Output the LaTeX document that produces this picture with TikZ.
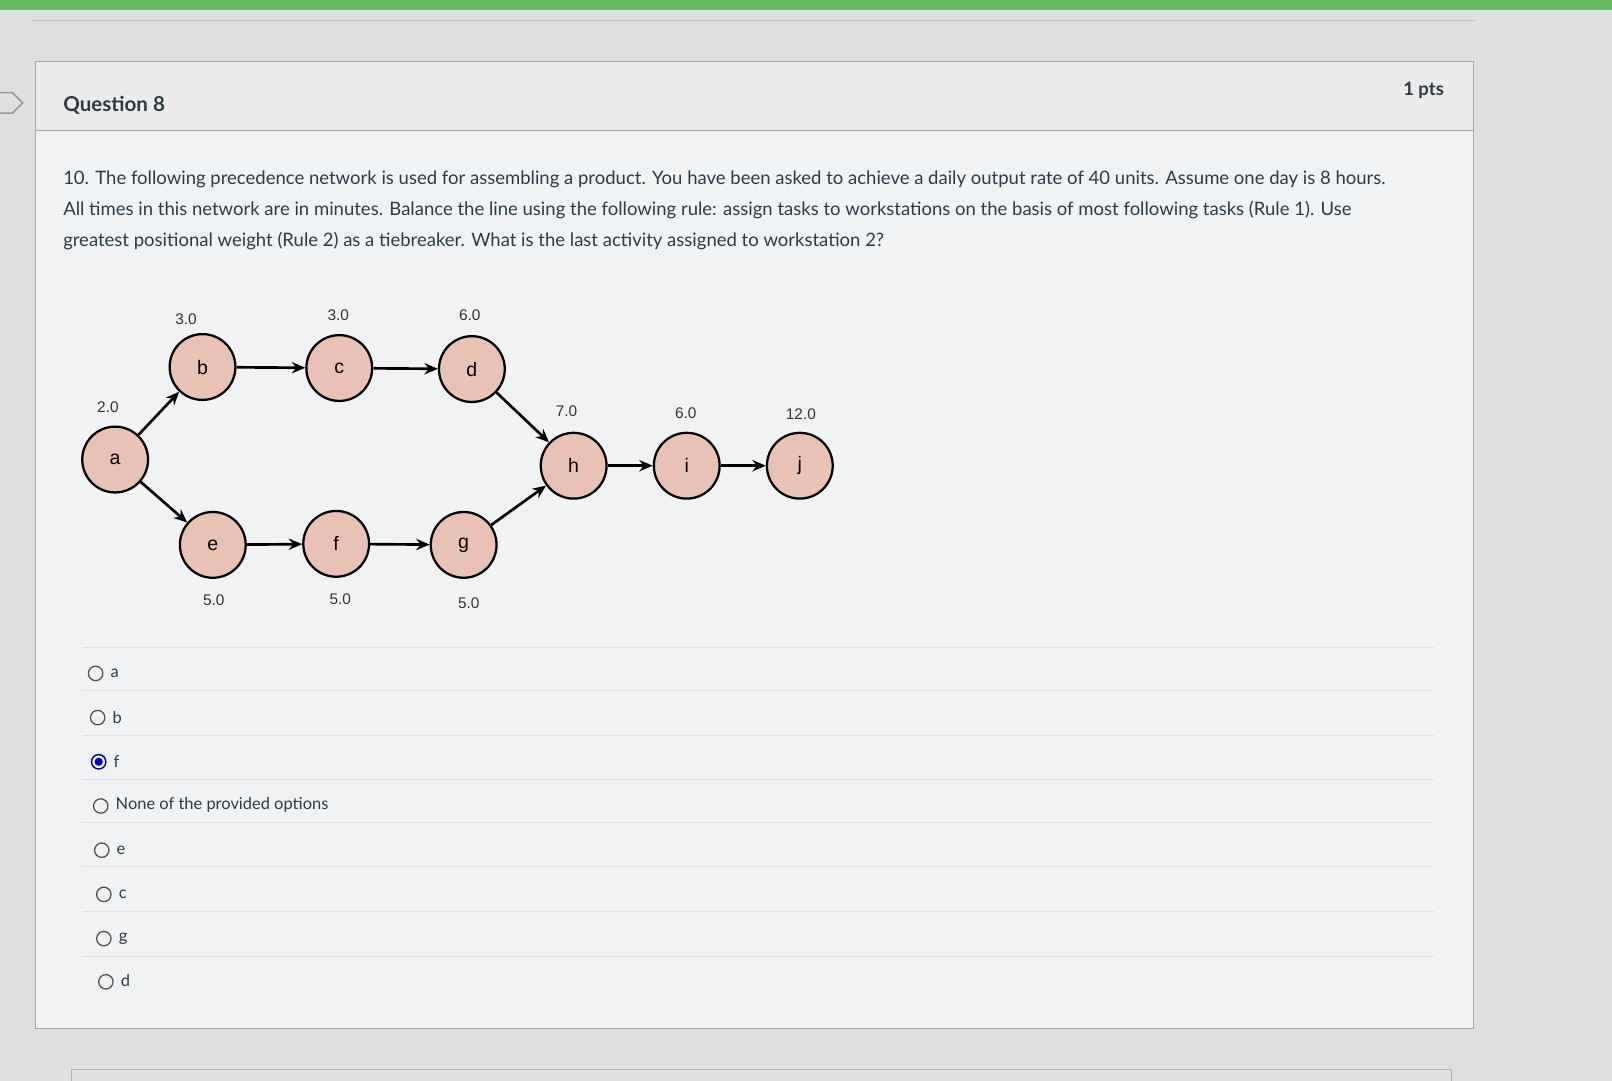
\documentclass[tikz,border=0pt]{standalone}
\usepackage{fontspec}
\setmainfont{Lato}
\newfontfamily\arialf{Liberation Sans}
\usetikzlibrary{arrows.meta}
\definecolor{bg}{HTML}{DDDFE1}
\definecolor{nodefill}{HTML}{E8C2B4}
\definecolor{txt}{HTML}{2D3B45}
\tikzset{
 task/.style={circle,draw=black,line width=2.2pt,fill=nodefill,minimum size=64pt,inner sep=0pt,font=\arialf\fontsize{19}{19}\selectfont},
 wt/.style={font=\arialf\fontsize{15}{15}\selectfont,text=black!80},
 edge/.style={-{Stealth[length=13pt,width=11pt]},line width=2.6pt},
 opt/.style={anchor=west,font=\fontsize{16}{16}\selectfont,text=txt},
 radio/.style={circle,draw=black!70,line width=1.2pt,minimum size=14pt,inner sep=0pt},
 sep/.style={draw=black!12,line width=1pt}
}
\begin{document}
\begin{tikzpicture}[x=1pt,y=-1pt]
\useasboundingbox (0,0) rectangle (1568,1051);
\fill[bg] (0,0) rectangle (1568,1051);
\fill[green!55!black!60] (0,0) rectangle (1568,10);
\draw[black!25,line width=1pt] (30,20) -- (1435,20);
\fill[white!60!bg] (35,60) rectangle (1433,1000);
\draw[black!35,line width=1pt] (35,60) rectangle (1433,1000);
\fill[black!8] (35,60) rectangle (1433,127);
\draw[black!35,line width=1pt] (35,127) -- (1433,127);
\draw[black!40,line width=1.5pt] (0,90) -- (12,90) -- (22,100) -- (12,110) -- (0,110);
\node[anchor=west,font=\bfseries\fontsize{20}{20}\selectfont,text=txt] (qt) at (58,102) {Question 8};
\node[anchor=east,font=\bfseries\fontsize{18}{18}\selectfont,text=txt] (pts) at (1408,88) {1 pts};
\node[anchor=north west,text width=1300pt,align=flush left,font=\fontsize{18}{30}\selectfont,text=txt] (q) at (58,163)
{\hyphenpenalty=10000 10. The following precedence network is used for assembling a product. You have been asked to achieve a daily output rate of 40 units. Assume one day is 8 hours. All times in this network are in minutes. Balance the line using the following rule: assign tasks to workstations on the basis of most following tasks (Rule 1). Use greatest positional weight (Rule 2) as a tiebreaker. What is the last activity assigned to workstation 2?};
\node[task] (a) at (112,447) {a};
\node[task] (b) at (197,357) {b};
\node[task] (c) at (330,358) {c};
\node[task] (d) at (459,359) {d};
\node[task] (e) at (207,530) {e};
\node[task] (f) at (327,529) {f};
\node[task] (g) at (451,530) {g};
\node[task] (h) at (558,453) {h};
\node[task] (i) at (668,453) {i};
\node[task] (j) at (778,453) {j};
\draw[edge] (a) -- (b); \draw[edge] (b) -- (c); \draw[edge] (c) -- (d);
\draw[edge] (a) -- (e); \draw[edge] (e) -- (f); \draw[edge] (f) -- (g);
\draw[edge] (d) -- (h); \draw[edge] (g) -- (h); \draw[edge] (h) -- (i); \draw[edge] (i) -- (j);
\node[wt] (wb) at (181,310) {3.0};
\node[wt] (wc) at (329,307) {3.0};
\node[wt] (wd) at (457,307) {6.0};
\node[wt] (wa) at (105,396) {2.0};
\node[wt] (wh) at (551,400) {7.0};
\node[wt] (wi) at (667,402) {6.0};
\node[wt] (wj) at (779,403) {12.0};
\node[wt] (we) at (208,584) {5.0};
\node[wt] (wf) at (331,583) {5.0};
\node[wt] (wg) at (456,587) {5.0};
\foreach \y in {630,672,715,758,800,843,887,930} \draw[sep] (80,\y) -- (1395,\y);
\node[radio] (r1) at (93,655) {}; \node[opt] (o1) at (104,655) {a};
\node[radio] (r2) at (95,698) {}; \node[opt] (o2) at (106,698) {b};
\node[radio,draw=blue!70!black,line width=1.4pt] (r3) at (96,741) {}; \fill[blue!70!black] (r3) circle (4pt);
\node[opt] (o3) at (107,741) {f};
\node[radio] (r4) at (98,784) {}; \node[opt] (o4) at (109,783) {None of the provided options};
\node[radio] (r5) at (99,827) {}; \node[opt] (o5) at (110,827) {e};
\node[radio] (r6) at (101,870) {}; \node[opt] (o6) at (112,870) {c};
\node[radio] (r7) at (101,913) {}; \node[opt] (o7) at (112,913) {g};
\node[radio] (r8) at (103,955) {}; \node[opt] (o8) at (114,954) {d};
\draw[black!30,line width=1pt] (70,1051) -- (70,1040) -- (1412,1040) -- (1412,1051);
\end{tikzpicture}
\end{document}
